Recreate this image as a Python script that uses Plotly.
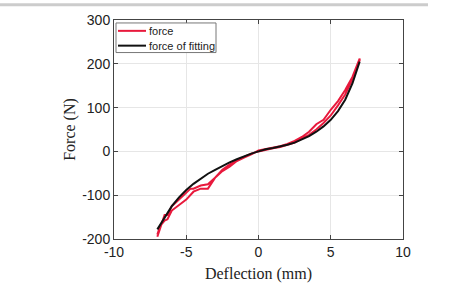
import plotly.graph_objects as go

# Measured force loop (two branches)
force_x_up = [-7, -6.8, -6.5, -6.3, -6, -5.5, -5, -4.7, -4.5, -4, -3.5, -3, -2.5, -2, -1.5, -1, -0.5, 0, 0.5, 1, 1.5, 2, 2.5, 3, 3.5, 4, 4.5, 5, 5.5, 6, 6.5, 7]
force_y_up = [-195, -175, -145, -145, -125, -110, -95, -85, -85, -78, -75, -60, -45, -35, -22, -14, -7, 2, 5, 8, 12, 17, 24, 33, 45, 62, 72, 95, 115, 140, 170, 212]
force_x_down = [7, 6.5, 6, 5.5, 5, 4.5, 4, 3.5, 3, 2.5, 2, 1.5, 1, 0.5, 0, -0.5, -1, -1.5, -2, -2.5, -3, -3.5, -4, -4.5, -5, -5.5, -6, -6.3, -6.5, -6.8, -7]
force_y_down = [208, 165, 130, 105, 82, 65, 50, 38, 28, 20, 15, 10, 7, 4, 0, -5, -12, -20, -30, -42, -60, -85, -85, -92, -110, -122, -135, -155, -158, -170, -190]

# Fitted force
fit_x = [-7, -6.5, -6, -5.5, -5, -4.5, -4, -3.5, -3, -2.5, -2, -1.5, -1, -0.5, 0, 0.5, 1, 1.5, 2, 2.5, 3, 3.5, 4, 4.5, 5, 5.5, 6, 6.5, 7]
fit_y = [-178, -150, -125, -105, -88, -74, -62, -51, -42, -33, -25, -18, -11, -5, 0, 5, 8, 11, 15, 20, 27, 35, 45, 57, 72, 92, 118, 155, 205]

x_ticks = [-10, -5, 0, 5, 10]
y_ticks = [-200, -100, 0, 100, 200, 300]

series_names = ["force", "force of fitting"]
series_colors = ["#e8193c", "#111111"]

fig = go.Figure()
fig.add_trace(go.Scatter(x=force_x_up + force_x_down, y=force_y_up + force_y_down,
                         mode="lines", name=series_names[0],
                         line=dict(color=series_colors[0], width=2)))
fig.add_trace(go.Scatter(x=fit_x, y=fit_y, mode="lines", name=series_names[1],
                         line=dict(color=series_colors[1], width=2)))

axis_common = dict(showgrid=True, gridcolor="#e6e6e6", gridwidth=1,
                   showline=True, linecolor="#444444", linewidth=1, mirror="ticks",
                   ticks="inside", ticklen=4, tickcolor="#444444",
                   zeroline=False,
                   tickfont=dict(family="Liberation Sans, Arial", size=14, color="#222222"))

fig.update_xaxes(range=[-10, 10], tickvals=x_ticks, ticktext=[str(v) for v in x_ticks],
                 title=dict(text="Deflection (mm)", standoff=9,
                            font=dict(family="Liberation Serif, Times New Roman", size=16, color="#222222")),
                 **axis_common)
fig.update_yaxes(range=[-200, 300], tickvals=y_ticks, ticktext=[str(v) for v in y_ticks],
                 title=dict(text="Force (N)", standoff=2,
                            font=dict(family="Liberation Serif, Times New Roman", size=16, color="#222222")),
                 **axis_common)

L, T, PW, PH = 114, 17, 289, 222
def px(x):
    return (x - L) / PW
def py(y):
    return (T + PH - y) / PH

fig.update_layout(
    width=474, height=295,
    margin=dict(l=L, r=474 - L - PW, t=T, b=295 - T - PH),
    paper_bgcolor="white", plot_bgcolor="white",
    showlegend=False,
)

# top grey strip of the page
fig.add_shape(type="rect", xref="paper", yref="paper",
              x0=px(0), x1=px(428), y0=py(0), y1=py(3),
              fillcolor="#cccccc", line=dict(width=0), layer="below")

# compact legend box
fig.add_shape(type="rect", xref="paper", yref="paper",
              x0=px(116), x1=px(216), y0=py(20), y1=py(50),
              fillcolor="white", line=dict(color="#777777", width=1))
for i, (name, col) in enumerate(zip(series_names, series_colors)):
    yy = 28 + 15 * i
    fig.add_shape(type="line", xref="paper", yref="paper",
                  x0=px(118), x1=px(146), y0=py(yy), y1=py(yy),
                  line=dict(color=col, width=2))
    fig.add_annotation(xref="paper", yref="paper", x=px(147), y=py(yy),
                       xanchor="left", yanchor="middle", showarrow=False, text=name,
                       font=dict(family="Liberation Sans, Arial", size=11, color="#222222"))

fig.write_html("out.html")
